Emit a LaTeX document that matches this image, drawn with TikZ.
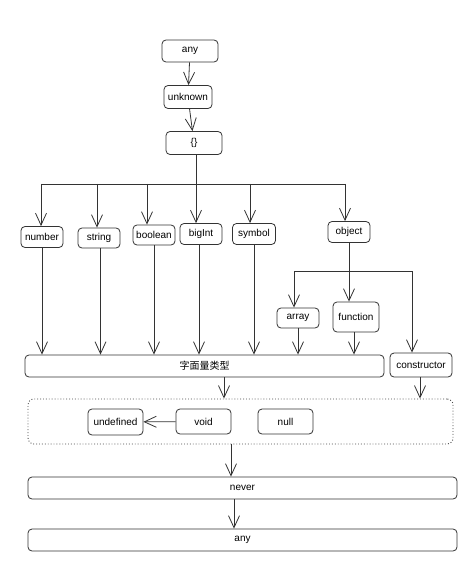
\documentclass[tikz,border=0pt]{standalone}
\usepackage{fontspec}
\setmainfont{Liberation Sans}
\newfontfamily\cjk{Noto Sans CJK SC}
\usetikzlibrary{arrows.meta}
\begin{document}
\begin{tikzpicture}[x=1pt,y=-1pt,
  box/.style={draw=black!80, line width=0.8pt, rounded corners=4pt, inner sep=0pt, font=\fontsize{10}{12}\selectfont},
  arr/.style={draw=black!80, line width=0.8pt, -{Straight Barb[length=12pt,width=11pt,line width=0.8pt]}},
  ln/.style={draw=black!80, line width=0.8pt},
  grpbox/.style={draw=black!70, line width=0.9pt, dotted, rounded corners=6pt, inner sep=0pt}]
\useasboundingbox[fill=white] (0,0) rectangle (474,577);
% nodes
\node[box, minimum width=56pt, minimum height=22pt] (any) at (190,51) {any};
\node[box, minimum width=48pt, minimum height=23pt] (unknown) at (188,97) {unknown};
\node[box, minimum width=56pt, minimum height=23pt] (obj0) at (194,143) {\{\}};
\node[box, minimum width=42pt, minimum height=21pt] (number) at (42,237) {number};
\node[box, minimum width=42pt, minimum height=20pt] (string) at (99,238) {string};
\node[box, minimum width=42pt, minimum height=20pt] (boolean) at (154,235) {boolean};
\node[box, minimum width=42pt, minimum height=21pt] (bigint) at (201,234) {bigInt};
\node[box, minimum width=43pt, minimum height=21pt] (symbol) at (254,234) {symbol};
\node[box, minimum width=42pt, minimum height=21pt] (object) at (349,232) {object};
\node[box, minimum width=42pt, minimum height=20pt] (array) at (298,318) {array};
\node[box, minimum width=46pt, minimum height=30pt] (function) at (356,317) {function};
\node[box, minimum width=359pt, minimum height=22pt] (lit) at (204.5,366) {\cjk 字面量类型};
\node[box, minimum width=62pt, minimum height=24pt] (constructor) at (421,365) {constructor};
\node[grpbox, minimum width=425pt, minimum height=45pt] (grp) at (240.5,421.5) {};
\node[box, minimum width=55pt, minimum height=26pt] (undefined) at (115.5,422) {undefined};
\node[box, minimum width=55pt, minimum height=25pt] (void) at (203.5,421.5) {void};
\node[box, minimum width=55pt, minimum height=25pt] (null) at (285.5,421.5) {null};
\node[box, minimum width=429pt, minimum height=22pt] (never) at (242.5,488) {never};
\node[box, minimum width=429pt, minimum height=22pt] (any2) at (242.5,540) {any};
% coordinates
\coordinate (b1) at (41,184);
\coordinate (b2) at (97,184);
\coordinate (b3) at (147,184);
\coordinate (b4) at (196,184);
\coordinate (b5) at (250,184);
\coordinate (b6) at (345,184);
\coordinate (brA) at (294,271);
\coordinate (brC) at (412,271);
\coordinate (l1) at (224,377);
\coordinate (c1) at (420,377);
\coordinate (g1) at (231,444);
\coordinate (n1) at (234,499);
% connectors
\draw[arr] (any) -- (unknown);
\draw[arr] (unknown) -- (obj0);
\draw[ln] (obj0.south -| b4) -- (b4);
\draw[ln] (b1) -- (b6);
\draw[arr] (b1) -- (b1 |- number.north);
\draw[arr] (b2) -- (b2 |- string.north);
\draw[arr] (b3) -- (b3 |- boolean.north);
\draw[arr] (b4) -- (b4 |- bigint.north);
\draw[arr] (b5) -- (b5 |- symbol.north);
\draw[arr] (b6) -- (b6 |- object.north);
\draw[arr] (number.south) -- (number.south |- lit.north);
\draw[arr] ([xshift=1.5pt]string.south) -- ([xshift=1.5pt]string.south |- lit.north);
\draw[arr] (boolean.south) -- (boolean.south |- lit.north);
\draw[arr] ([xshift=-2pt]bigint.south) -- ([xshift=-2pt]bigint.south |- lit.north);
\draw[arr] (symbol.south) -- (symbol.south |- lit.north);
\draw[arr] (object.south) -- (object.south |- function.north);
\draw[ln] (brA) -- (brC);
\draw[arr] (brA) -- (brA |- array.north);
\draw[arr] (brC) -- (brC |- constructor.north);
\draw[arr] (array.south) -- (array.south |- lit.north);
\draw[arr] ([xshift=-2pt]function.south) -- ([xshift=-2pt]function.south |- lit.north);
\draw[arr] (l1) -- (l1 |- grp.north);
\draw[arr] (c1) -- (c1 |- grp.north);
\draw[arr] (void) -- (undefined);
\draw[arr] (g1) -- (g1 |- never.north);
\draw[arr] (n1) -- (n1 |- any2.north);
\end{tikzpicture}
\end{document}
